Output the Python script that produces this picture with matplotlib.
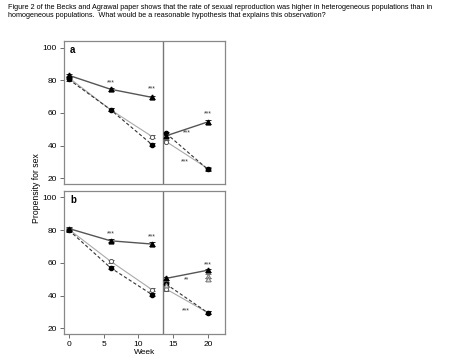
import numpy as np
import matplotlib
matplotlib.use('Agg')
import matplotlib.pyplot as plt

plt.rcParams['font.family'] = ['Liberation Sans', 'DejaVu Sans']

title = ('Figure 2 of the Becks and Agrawal paper shows that the rate of sexual reproduction was higher in heterogeneous populations than in\n'
         'homogeneous populations.  What would be a reasonable hypothesis that explains this observation?')

weeks_1 = [0, 6, 12]
weeks_2 = [14, 20]

# panel a
a_tri_1 = [83, 74.5, 69.5]
a_tri_2 = [46, 54.5]
a_fill_1 = [80.5, 62, 40.5]
a_fill_2 = [47.5, 25.5]
a_open_1 = [81.5, 62, 45.5]
a_open_2 = [42.5, 26]
a_stars = [(6, 78.5, '***'), (12, 74.5, '***'), (17, 47.5, '***'), (16.7, 30, '***'), (20, 59.5, '***')]

# panel b
b_tri_1 = [81, 73.5, 71.5]
b_tri_2 = [50.5, 55.5]
b_fill_1 = [80, 57, 40.5]
b_fill_2 = [47, 29.5]
b_open_1 = [80.5, 61, 43.5]
b_open_2 = [44, 29.5]
b_extra_x = [14, 20, 20]
b_extra_y = [46.5, 52, 50]
b_stars = [(6, 78, '***'), (12, 76, '***'), (17, 49.3, '**'), (16.9, 30.7, '***'), (20, 59, '***')]

fig = plt.figure(figsize=(4.74, 3.63), dpi=100)
fig.text(0.017, 0.988, title, ha='left', va='top', fontsize=5.2, linespacing=1.2)

ax_a = fig.add_axes([0.135, 0.493, 0.340, 0.394])
ax_b = fig.add_axes([0.135, 0.080, 0.340, 0.394])


def draw(ax, tri1, tri2, fill1, fill2, open1, open2, stars, label):
    err = 1.0
    # open circles, light line
    for xs, ys in [(weeks_1, open1), (weeks_2, open2)]:
        ax.errorbar(xs, ys, yerr=err, color='#aaaaaa', lw=0.8, ls='-',
                    marker='o', ms=3, mfc='white', mec='#555555', mew=0.7,
                    ecolor='#555555', elinewidth=0.6, capsize=2, capthick=0.6)
    # filled circles, dashed line
    for xs, ys in [(weeks_1, fill1), (weeks_2, fill2)]:
        ax.errorbar(xs, ys, yerr=err, color='#333333', lw=0.8, ls=(0, (3, 2)),
                    marker='o', ms=3, mfc='black', mec='black',
                    ecolor='black', elinewidth=0.6, capsize=2, capthick=0.6)
    # filled triangles, solid line
    for xs, ys in [(weeks_1, tri1), (weeks_2, tri2)]:
        ax.errorbar(xs, ys, yerr=err, color='#555555', lw=1.0, ls='-',
                    marker='^', ms=3.5, mfc='black', mec='black',
                    ecolor='black', elinewidth=0.6, capsize=2, capthick=0.6)
    for x, y, s in stars:
        ax.text(x, y, s, ha='center', va='center', fontsize=5, color='#333333')
    ax.axvline(13.55, color='#777777', lw=1.0)
    ax.text(0.2, 98.5, label, ha='left', va='center', fontsize=7, fontweight='bold')
    ax.set_xlim(-0.7, 22.5)
    ax.set_ylim(16.5, 104)
    ax.set_yticks([20, 40, 60, 80, 100])
    for sp in ax.spines.values():
        sp.set_color('#888888')
        sp.set_linewidth(0.9)
    ax.tick_params(labelsize=6, length=3, width=0.6, color='#555555', pad=2)


draw(ax_a, a_tri_1, a_tri_2, a_fill_1, a_fill_2, a_open_1, a_open_2, a_stars, 'a')
draw(ax_b, b_tri_1, b_tri_2, b_fill_1, b_fill_2, b_open_1, b_open_2, b_stars, 'b')
ax_b.errorbar(b_extra_x, b_extra_y, yerr=1.0, ls='none', marker='^', ms=3.5,
              mfc='#dddddd', mec='#777777', mew=0.7, ecolor='#777777',
              elinewidth=0.6, capsize=2, capthick=0.6)

ax_a.set_xticks([])
ax_b.set_xticks([0, 5, 10, 15, 20])
ax_b.set_xlabel('Week', fontsize=6, labelpad=1)
fig.text(0.076, 0.482, 'Propensity for sex', rotation=90, ha='center', va='center', fontsize=6.2)

fig.savefig('out.png', dpi=100)
